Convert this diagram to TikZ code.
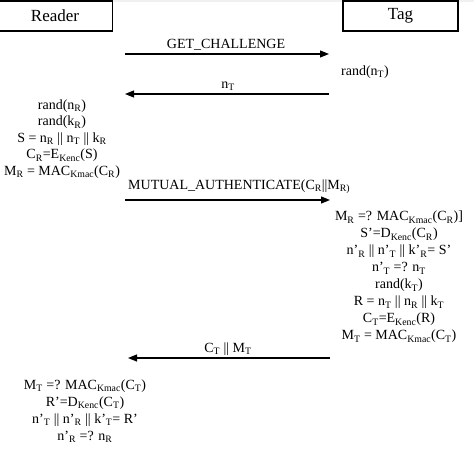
\documentclass[tikz,border=0pt]{standalone}
\usepackage{fontspec}
\setmainfont{Liberation Serif}
\usetikzlibrary{arrows.meta, positioning}
\newcommand{\lo}[1]{\textsubscript{#1}}

\begin{document}
\begin{tikzpicture}[x=1pt, y=-1pt,
  party/.style={draw, line width=1.2pt, minimum height=30pt, font=\fontsize{17}{20}\selectfont},
  msg/.style={-{Triangle[length=9pt,width=7pt]}, line width=1.1pt},
  lbl/.style={inner sep=0pt, font=\fontsize{14}{17}\selectfont},
  calc/.style={inner sep=0pt, align=center, font=\fontsize{14}{17}\selectfont}]
  \useasboundingbox (0,0) rectangle (474,474);
  % top strip
  \fill[gray!12] (0,0) rectangle (474,2);
  % parties
  \node[party, minimum width=115pt] (reader) at (55,16) {Reader};
  \node[party, minimum width=115pt] (tag) at (400.5,16) {Tag};
  % GET_CHALLENGE
  \coordinate (r1) at (125,54);
  \coordinate (t1) at (329,54);
  \draw[msg] (r1) -- (t1);
  \node[lbl] (getch) at (226,45) {GET\_CHALLENGE};
  \node[lbl] (randnt) at (365,72) {rand(n\lo{T})};
  % n_T
  \coordinate (t2) at (329,94);
  \coordinate (r2) at (125,94);
  \draw[msg] (t2) -- (r2);
  \node[lbl] (nt) at (228,86) {n\lo{T}};
  % reader computes
  \node[calc, font=\fontsize{14}{16.5}\selectfont] (rcalc) at (62,139) {rand(n\lo{R})\\
    rand(k\lo{R})\\
    S = n\lo{R} || n\lo{T} || k\lo{R}\\
    C\lo{R}=E\lo{Kenc}(S)\\
    M\lo{R} = MAC\lo{Kmac}(C\lo{R})};
  % MUTUAL_AUTHENTICATE
  \coordinate (r3) at (125,200);
  \coordinate (t3) at (330,200);
  \draw[msg] (r3) -- (t3);
  \node[lbl, anchor=west] (mutauth) at (128,187) {MUTUAL\_AUTHENTICATE(C\lo{R}||M\lo{R)}};
  % tag computes
  \node[calc] (tcalc) at (399,277) {M\lo{R} =? MAC\lo{Kmac}(C\lo{R})]\\
    S'=D\lo{Kenc}(C\lo{R})\\
    n'\lo{R} || n'\lo{T} || k'\lo{R}= S'\\
    n'\lo{T} =? n\lo{T}\\
    rand(k\lo{T})\\
    R = n\lo{T} || n\lo{R} || k\lo{T}\\
    C\lo{T}=E\lo{Kenc}(R)\\
    M\lo{T} = MAC\lo{Kmac}(C\lo{T})};
  % C_T || M_T
  \coordinate (t4) at (330,358);
  \coordinate (r4) at (128,358);
  \draw[msg] (t4) -- (r4);
  \node[lbl] (ctmt) at (228,349) {C\lo{T} || M\lo{T}};
  % reader checks
  \node[calc] (rcheck) at (85,411) {M\lo{T} =? MAC\lo{Kmac}(C\lo{T})\\
    R'=D\lo{Kenc}(C\lo{T})\\
    n'\lo{T} || n'\lo{R} || k'\lo{T}= R'\\
    n'\lo{R} =? n\lo{R}};
\end{tikzpicture}
\end{document}
